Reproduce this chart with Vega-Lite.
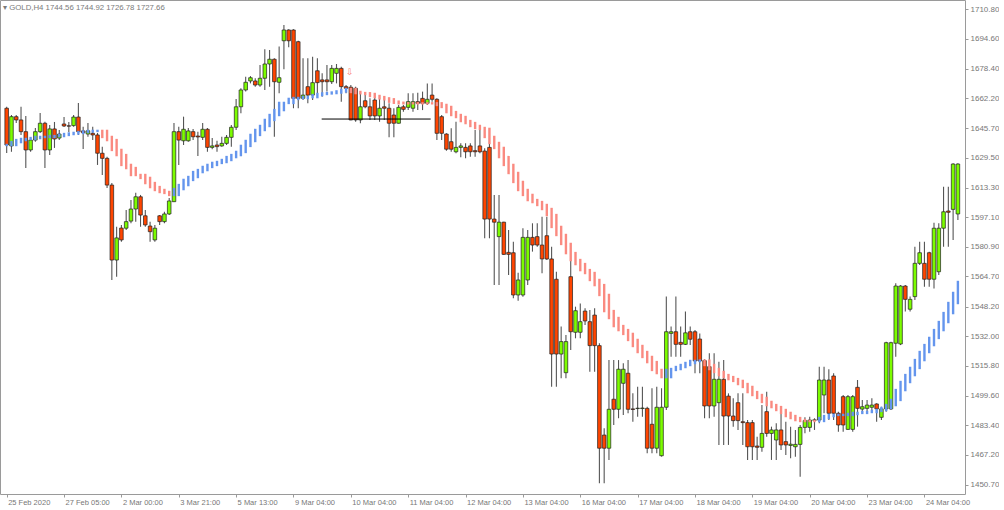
{
"$schema":"https://vega.github.io/schema/vega-lite/v6.json",
"width":965,"height":494,"padding":0,"background":"white",
"title":{"text":"▾ GOLD,H4  1744.56 1744.92 1726.78 1727.66","anchor":"start","frame":"group","orient":"top","baseline":"top","offset":-12,"dx":3,"font":"Liberation Sans","fontSize":7.8,"fontWeight":"normal","color":"#7a7a7a"},
"config":{"view":{"stroke":"#9a9a9a"},"axis":{"grid":false,"domain":false,"tickColor":"#9a9a9a","tickSize":3,"labelColor":"#777777","labelFont":"Liberation Sans","labelFlush":false,"labelOverlap":false,"labelSeparation":0,"title":null}},
"datasets":{
"bars":[
{"i":0,"o":1656.7,"h":1657.5,"l":1632.2,"c":1636.6,"s":1636.6,"d":"up"},
{"i":1,"o":1636.1,"h":1653.0,"l":1632.9,"c":1652.1,"s":1638.2,"d":"up"},
{"i":2,"o":1652.1,"h":1653.0,"l":1648.6,"c":1650.3,"s":1639.3,"d":"up"},
{"i":3,"o":1650.3,"h":1657.5,"l":1642.1,"c":1643.9,"s":1639.9,"d":"up"},
{"i":4,"o":1643.9,"h":1652.5,"l":1624.0,"c":1633.9,"s":1639.9,"d":"up"},
{"i":5,"o":1633.9,"h":1640.4,"l":1632.9,"c":1639.3,"s":1640.4,"d":"up"},
{"i":6,"o":1639.3,"h":1645.9,"l":1638.4,"c":1643.9,"s":1641.0,"d":"up"},
{"i":7,"o":1643.9,"h":1654.1,"l":1643.2,"c":1648.5,"s":1641.0,"d":"up"},
{"i":8,"o":1648.5,"h":1649.3,"l":1624.0,"c":1633.9,"s":1641.0,"d":"up"},
{"i":9,"o":1633.9,"h":1647.5,"l":1631.1,"c":1645.4,"s":1641.5,"d":"up"},
{"i":10,"o":1645.4,"h":1649.2,"l":1635.0,"c":1639.9,"s":1641.5,"d":"up"},
{"i":11,"o":1640.4,"h":1644.8,"l":1639.3,"c":1642.6,"s":1642.1,"d":"up"},
{"i":12,"o":1648.1,"h":1651.9,"l":1646.4,"c":1647.0,"s":1642.6,"d":"up"},
{"i":13,"o":1647.1,"h":1649.2,"l":1643.7,"c":1646.9,"s":1642.9,"d":"up"},
{"i":14,"o":1647.2,"h":1653.0,"l":1646.6,"c":1651.9,"s":1643.2,"d":"up"},
{"i":15,"o":1651.9,"h":1659.6,"l":1642.1,"c":1643.9,"s":1643.7,"d":"up"},
{"i":16,"o":1644.3,"h":1646.6,"l":1634.4,"c":1643.3,"s":1644.0,"d":"up"},
{"i":17,"o":1642.6,"h":1648.6,"l":1641.1,"c":1644.4,"s":1644.3,"d":"up"},
{"i":18,"o":1643.0,"h":1646.6,"l":1639.3,"c":1642.1,"s":1644.3,"d":"up"},
{"i":19,"o":1642.1,"h":1643.2,"l":1625.7,"c":1632.1,"s":1644.3,"d":"up"},
{"i":20,"o":1632.1,"h":1635.7,"l":1620.2,"c":1629.3,"s":1641.0,"d":"dn"},
{"i":21,"o":1629.3,"h":1630.2,"l":1613.1,"c":1614.7,"s":1639.3,"d":"dn"},
{"i":22,"o":1614.7,"h":1615.8,"l":1562.8,"c":1573.7,"s":1633.9,"d":"dn"},
{"i":23,"o":1573.7,"h":1591.9,"l":1564.6,"c":1585.8,"s":1631.1,"d":"dn"},
{"i":24,"o":1591.2,"h":1592.9,"l":1583.7,"c":1584.7,"s":1625.7,"d":"dn"},
{"i":25,"o":1591.1,"h":1601.1,"l":1590.1,"c":1594.7,"s":1624.0,"d":"dn"},
{"i":26,"o":1595.0,"h":1606.5,"l":1593.8,"c":1601.6,"s":1620.2,"d":"dn"},
{"i":27,"o":1601.6,"h":1610.5,"l":1594.7,"c":1608.3,"s":1620.2,"d":"dn"},
{"i":28,"o":1608.3,"h":1609.3,"l":1591.9,"c":1598.3,"s":1618.6,"d":"dn"},
{"i":29,"o":1597.9,"h":1601.1,"l":1591.9,"c":1592.9,"s":1615.8,"d":"dn"},
{"i":30,"o":1592.3,"h":1594.7,"l":1583.7,"c":1589.2,"s":1613.6,"d":"dn"},
{"i":31,"o":1584.7,"h":1592.9,"l":1583.7,"c":1591.1,"s":1612.0,"d":"dn"},
{"i":32,"o":1597.9,"h":1598.3,"l":1592.9,"c":1594.7,"s":1610.9,"d":"dn"},
{"i":33,"o":1594.7,"h":1600.1,"l":1593.8,"c":1598.9,"s":1610.4,"d":"dn"},
{"i":34,"o":1598.9,"h":1607.6,"l":1598.3,"c":1606.0,"s":1609.3,"d":"dn"},
{"i":35,"o":1605.6,"h":1648.6,"l":1605.4,"c":1643.9,"s":1612.5,"d":"up"},
{"i":36,"o":1643.9,"h":1646.6,"l":1625.7,"c":1639.3,"s":1614.7,"d":"up"},
{"i":37,"o":1638.9,"h":1652.1,"l":1636.6,"c":1645.2,"s":1617.5,"d":"up"},
{"i":38,"o":1638.9,"h":1645.9,"l":1638.4,"c":1644.3,"s":1619.1,"d":"up"},
{"i":39,"o":1643.9,"h":1645.4,"l":1639.3,"c":1641.1,"s":1621.8,"d":"up"},
{"i":40,"o":1641.5,"h":1643.9,"l":1630.6,"c":1641.0,"s":1622.9,"d":"up"},
{"i":41,"o":1640.8,"h":1648.6,"l":1639.3,"c":1645.2,"s":1624.6,"d":"up"},
{"i":42,"o":1645.2,"h":1645.9,"l":1632.9,"c":1635.3,"s":1625.7,"d":"up"},
{"i":43,"o":1635.3,"h":1640.4,"l":1634.3,"c":1636.1,"s":1626.8,"d":"up"},
{"i":44,"o":1636.6,"h":1638.9,"l":1632.9,"c":1635.7,"s":1627.3,"d":"up"},
{"i":45,"o":1636.1,"h":1641.1,"l":1635.7,"c":1637.5,"s":1628.4,"d":"up"},
{"i":46,"o":1637.5,"h":1642.1,"l":1636.6,"c":1640.8,"s":1630.0,"d":"up"},
{"i":47,"o":1640.8,"h":1647.5,"l":1635.7,"c":1646.3,"s":1631.1,"d":"up"},
{"i":48,"o":1646.3,"h":1661.8,"l":1644.8,"c":1657.5,"s":1632.8,"d":"up"},
{"i":49,"o":1657.5,"h":1667.6,"l":1653.9,"c":1666.7,"s":1636.1,"d":"up"},
{"i":50,"o":1666.7,"h":1673.9,"l":1665.8,"c":1670.9,"s":1638.8,"d":"up"},
{"i":51,"o":1671.6,"h":1674.3,"l":1670.3,"c":1673.4,"s":1642.1,"d":"up"},
{"i":52,"o":1671.6,"h":1673.1,"l":1668.5,"c":1669.4,"s":1644.8,"d":"up"},
{"i":53,"o":1669.4,"h":1680.3,"l":1668.5,"c":1673.1,"s":1647.0,"d":"up"},
{"i":54,"o":1673.1,"h":1688.9,"l":1666.7,"c":1680.9,"s":1650.3,"d":"up"},
{"i":55,"o":1680.9,"h":1688.5,"l":1668.5,"c":1683.5,"s":1653.0,"d":"up"},
{"i":56,"o":1683.5,"h":1684.0,"l":1641.1,"c":1671.2,"s":1655.7,"d":"up"},
{"i":57,"o":1670.9,"h":1690.4,"l":1664.9,"c":1673.4,"s":1659.6,"d":"up"},
{"i":58,"o":1693.6,"h":1702.2,"l":1678.0,"c":1699.5,"s":1659.6,"d":"up"},
{"i":59,"o":1699.5,"h":1699.9,"l":1690.0,"c":1693.6,"s":1661.8,"d":"up"},
{"i":60,"o":1699.5,"h":1699.9,"l":1656.7,"c":1662.1,"s":1662.3,"d":"up"},
{"i":61,"o":1693.1,"h":1693.6,"l":1656.7,"c":1662.1,"s":1662.3,"d":"up"},
{"i":62,"o":1662.1,"h":1684.0,"l":1661.2,"c":1663.9,"s":1662.8,"d":"up"},
{"i":63,"o":1668.5,"h":1684.0,"l":1659.4,"c":1663.9,"s":1662.8,"d":"up"},
{"i":64,"o":1663.9,"h":1684.9,"l":1661.2,"c":1670.7,"s":1663.9,"d":"up"},
{"i":65,"o":1677.2,"h":1684.0,"l":1664.9,"c":1670.7,"s":1664.5,"d":"up"},
{"i":66,"o":1672.2,"h":1675.8,"l":1663.0,"c":1671.2,"s":1664.8,"d":"up"},
{"i":67,"o":1672.2,"h":1680.3,"l":1665.8,"c":1671.2,"s":1665.0,"d":"up"},
{"i":68,"o":1671.2,"h":1680.3,"l":1669.9,"c":1678.5,"s":1665.3,"d":"up"},
{"i":69,"o":1675.8,"h":1680.9,"l":1670.3,"c":1678.5,"s":1665.9,"d":"up"},
{"i":70,"o":1678.5,"h":1679.4,"l":1660.3,"c":1668.5,"s":1666.7,"d":"up"},
{"i":71,"o":1668.5,"h":1669.4,"l":1664.9,"c":1667.6,"s":1667.2,"d":"up"},
{"i":72,"o":1668.2,"h":1669.4,"l":1650.1,"c":1650.3,"s":1665.6,"d":"dn"},
{"i":73,"o":1667.6,"h":1668.5,"l":1649.3,"c":1650.3,"s":1665.0,"d":"dn"},
{"i":74,"o":1650.3,"h":1664.9,"l":1648.5,"c":1657.5,"s":1664.9,"d":"dn"},
{"i":75,"o":1660.8,"h":1664.9,"l":1656.7,"c":1657.5,"s":1664.5,"d":"dn"},
{"i":76,"o":1657.5,"h":1662.1,"l":1650.3,"c":1652.5,"s":1663.4,"d":"dn"},
{"i":77,"o":1661.2,"h":1664.9,"l":1650.3,"c":1652.5,"s":1662.8,"d":"dn"},
{"i":78,"o":1652.5,"h":1662.1,"l":1649.3,"c":1656.7,"s":1662.1,"d":"dn"},
{"i":79,"o":1657.5,"h":1661.2,"l":1650.3,"c":1656.7,"s":1661.6,"d":"dn"},
{"i":80,"o":1656.7,"h":1659.4,"l":1640.8,"c":1648.5,"s":1660.3,"d":"dn"},
{"i":81,"o":1653.0,"h":1656.7,"l":1640.8,"c":1648.5,"s":1659.7,"d":"dn"},
{"i":82,"o":1648.5,"h":1658.5,"l":1648.3,"c":1657.2,"s":1659.4,"d":"dn"},
{"i":83,"o":1657.5,"h":1658.5,"l":1654.8,"c":1656.1,"s":1659.4,"d":"dn"},
{"i":84,"o":1657.2,"h":1664.9,"l":1655.7,"c":1660.3,"s":1659.4,"d":"dn"},
{"i":85,"o":1656.7,"h":1664.9,"l":1654.8,"c":1660.3,"s":1659.4,"d":"dn"},
{"i":86,"o":1660.3,"h":1665.2,"l":1655.7,"c":1659.4,"s":1659.4,"d":"dn"},
{"i":87,"o":1662.1,"h":1665.8,"l":1655.7,"c":1659.4,"s":1659.4,"d":"dn"},
{"i":88,"o":1659.4,"h":1670.3,"l":1658.5,"c":1661.6,"s":1659.4,"d":"dn"},
{"i":89,"o":1663.9,"h":1670.3,"l":1660.3,"c":1661.6,"s":1659.4,"d":"dn"},
{"i":90,"o":1661.6,"h":1662.1,"l":1639.3,"c":1643.0,"s":1658.5,"d":"dn"},
{"i":91,"o":1652.1,"h":1653.0,"l":1639.3,"c":1643.0,"s":1657.4,"d":"dn"},
{"i":92,"o":1642.6,"h":1643.0,"l":1633.5,"c":1634.3,"s":1654.6,"d":"dn"},
{"i":93,"o":1638.4,"h":1645.7,"l":1632.9,"c":1634.3,"s":1653.0,"d":"dn"},
{"i":94,"o":1632.9,"h":1649.3,"l":1632.1,"c":1635.3,"s":1651.9,"d":"dn"},
{"i":95,"o":1635.3,"h":1637.5,"l":1629.9,"c":1636.1,"s":1649.7,"d":"dn"},
{"i":96,"o":1635.3,"h":1637.5,"l":1629.3,"c":1632.9,"s":1648.6,"d":"dn"},
{"i":97,"o":1636.1,"h":1637.5,"l":1630.2,"c":1632.9,"s":1647.0,"d":"dn"},
{"i":98,"o":1633.5,"h":1644.8,"l":1630.2,"c":1632.9,"s":1645.9,"d":"dn"},
{"i":99,"o":1636.1,"h":1645.7,"l":1632.1,"c":1632.9,"s":1645.4,"d":"dn"},
{"i":100,"o":1633.3,"h":1634.8,"l":1585.6,"c":1596.1,"s":1641.0,"d":"dn"},
{"i":101,"o":1635.3,"h":1645.7,"l":1585.6,"c":1596.1,"s":1637.7,"d":"dn"},
{"i":102,"o":1596.1,"h":1609.3,"l":1560.0,"c":1594.4,"s":1635.0,"d":"dn"},
{"i":103,"o":1586.5,"h":1609.3,"l":1560.0,"c":1594.4,"s":1630.0,"d":"dn"},
{"i":104,"o":1594.4,"h":1594.7,"l":1576.5,"c":1576.8,"s":1625.7,"d":"dn"},
{"i":105,"o":1577.9,"h":1590.1,"l":1565.5,"c":1576.8,"s":1621.3,"d":"dn"},
{"i":106,"o":1577.7,"h":1583.7,"l":1552.8,"c":1554.6,"s":1616.4,"d":"dn"},
{"i":107,"o":1554.6,"h":1566.8,"l":1551.5,"c":1562.8,"s":1612.0,"d":"dn"},
{"i":108,"o":1554.6,"h":1591.1,"l":1553.6,"c":1586.1,"s":1609.3,"d":"dn"},
{"i":109,"o":1562.8,"h":1590.1,"l":1560.0,"c":1586.1,"s":1606.5,"d":"dn"},
{"i":110,"o":1586.1,"h":1593.8,"l":1578.3,"c":1581.9,"s":1605.4,"d":"dn"},
{"i":111,"o":1586.5,"h":1593.8,"l":1581.0,"c":1581.9,"s":1603.8,"d":"dn"},
{"i":112,"o":1581.9,"h":1597.4,"l":1566.5,"c":1574.3,"s":1601.6,"d":"dn"},
{"i":113,"o":1587.0,"h":1597.4,"l":1573.7,"c":1574.3,"s":1598.3,"d":"dn"},
{"i":114,"o":1574.3,"h":1581.0,"l":1504.4,"c":1522.3,"s":1591.8,"d":"dn"},
{"i":115,"o":1563.2,"h":1567.3,"l":1504.4,"c":1522.3,"s":1587.4,"d":"dn"},
{"i":116,"o":1522.3,"h":1537.3,"l":1509.0,"c":1529.1,"s":1582.5,"d":"dn"},
{"i":117,"o":1512.1,"h":1532.7,"l":1509.0,"c":1529.1,"s":1577.5,"d":"dn"},
{"i":118,"o":1564.6,"h":1573.7,"l":1524.5,"c":1534.5,"s":1573.7,"d":"dn"},
{"i":119,"o":1534.2,"h":1548.2,"l":1530.9,"c":1546.0,"s":1571.5,"d":"dn"},
{"i":120,"o":1534.2,"h":1550.0,"l":1530.9,"c":1540.0,"s":1568.2,"d":"dn"},
{"i":121,"o":1545.8,"h":1547.3,"l":1538.2,"c":1540.4,"s":1566.6,"d":"dn"},
{"i":122,"o":1540.0,"h":1546.4,"l":1512.6,"c":1526.9,"s":1562.8,"d":"dn"},
{"i":123,"o":1543.6,"h":1547.3,"l":1512.6,"c":1526.9,"s":1560.0,"d":"dn"},
{"i":124,"o":1526.9,"h":1528.2,"l":1451.6,"c":1470.8,"s":1554.6,"d":"dn"},
{"i":125,"o":1478.0,"h":1481.7,"l":1451.6,"c":1470.8,"s":1545.8,"d":"dn"},
{"i":126,"o":1470.8,"h":1519.0,"l":1464.4,"c":1492.1,"s":1542.0,"d":"dn"},
{"i":127,"o":1497.6,"h":1519.0,"l":1483.5,"c":1492.1,"s":1537.6,"d":"dn"},
{"i":128,"o":1492.1,"h":1519.0,"l":1487.2,"c":1514.0,"s":1535.4,"d":"dn"},
{"i":129,"o":1506.3,"h":1517.2,"l":1488.9,"c":1514.0,"s":1533.3,"d":"dn"},
{"i":130,"o":1511.8,"h":1519.0,"l":1489.9,"c":1492.1,"s":1530.0,"d":"dn"},
{"i":131,"o":1492.3,"h":1500.8,"l":1485.3,"c":1492.0,"s":1526.7,"d":"dn"},
{"i":132,"o":1492.5,"h":1504.4,"l":1488.0,"c":1492.7,"s":1523.4,"d":"dn"},
{"i":133,"o":1492.5,"h":1504.4,"l":1488.0,"c":1492.8,"s":1520.7,"d":"dn"},
{"i":134,"o":1492.6,"h":1493.5,"l":1468.0,"c":1470.8,"s":1517.9,"d":"dn"},
{"i":135,"o":1483.9,"h":1503.6,"l":1468.0,"c":1470.8,"s":1513.6,"d":"dn"},
{"i":136,"o":1470.8,"h":1504.4,"l":1468.0,"c":1493.2,"s":1511.9,"d":"dn"},
{"i":137,"o":1466.7,"h":1503.6,"l":1466.2,"c":1493.2,"s":1509.7,"d":"dn"},
{"i":138,"o":1493.2,"h":1553.7,"l":1491.7,"c":1534.5,"s":1513.6,"d":"up"},
{"i":139,"o":1533.6,"h":1537.3,"l":1520.8,"c":1534.5,"s":1514.1,"d":"up"},
{"i":140,"o":1534.5,"h":1553.7,"l":1520.8,"c":1527.6,"s":1515.2,"d":"up"},
{"i":141,"o":1528.7,"h":1537.3,"l":1520.8,"c":1527.6,"s":1516.3,"d":"up"},
{"i":142,"o":1527.6,"h":1545.5,"l":1527.2,"c":1533.9,"s":1517.4,"d":"up"},
{"i":143,"o":1534.5,"h":1537.3,"l":1527.2,"c":1530.4,"s":1518.5,"d":"up"},
{"i":144,"o":1534.5,"h":1535.4,"l":1511.8,"c":1518.5,"s":1518.5,"d":"up"},
{"i":145,"o":1530.5,"h":1533.6,"l":1511.8,"c":1518.5,"s":1518.7,"d":"up"},
{"i":146,"o":1518.7,"h":1519.4,"l":1487.2,"c":1493.9,"s":1516.3,"d":"dn"},
{"i":147,"o":1515.4,"h":1522.7,"l":1487.2,"c":1493.9,"s":1514.1,"d":"dn"},
{"i":148,"o":1493.9,"h":1522.7,"l":1488.0,"c":1508.5,"s":1512.5,"d":"dn"},
{"i":149,"o":1495.7,"h":1518.1,"l":1472.6,"c":1508.5,"s":1510.8,"d":"dn"},
{"i":150,"o":1508.5,"h":1519.0,"l":1472.6,"c":1488.4,"s":1509.7,"d":"dn"},
{"i":151,"o":1499.3,"h":1500.8,"l":1472.6,"c":1488.4,"s":1508.6,"d":"dn"},
{"i":152,"o":1488.4,"h":1498.1,"l":1482.6,"c":1485.9,"s":1507.6,"d":"dn"},
{"i":153,"o":1495.7,"h":1500.8,"l":1480.8,"c":1485.9,"s":1505.9,"d":"dn"},
{"i":154,"o":1485.3,"h":1500.8,"l":1472.6,"c":1484.8,"s":1504.3,"d":"dn"},
{"i":155,"o":1484.8,"h":1486.2,"l":1464.4,"c":1471.6,"s":1501.5,"d":"dn"},
{"i":156,"o":1484.8,"h":1486.2,"l":1464.4,"c":1471.6,"s":1499.9,"d":"dn"},
{"i":157,"o":1472.0,"h":1477.1,"l":1464.4,"c":1471.3,"s":1498.3,"d":"dn"},
{"i":158,"o":1471.3,"h":1494.4,"l":1468.9,"c":1478.9,"s":1496.1,"d":"dn"},
{"i":159,"o":1490.8,"h":1501.7,"l":1477.1,"c":1478.9,"s":1494.4,"d":"dn"},
{"i":160,"o":1478.9,"h":1482.6,"l":1464.4,"c":1480.8,"s":1493.3,"d":"dn"},
{"i":161,"o":1475.3,"h":1484.4,"l":1464.4,"c":1480.8,"s":1491.7,"d":"dn"},
{"i":162,"o":1480.8,"h":1492.6,"l":1469.8,"c":1472.6,"s":1490.1,"d":"dn"},
{"i":163,"o":1474.4,"h":1485.3,"l":1467.1,"c":1472.6,"s":1488.4,"d":"dn"},
{"i":164,"o":1472.3,"h":1482.6,"l":1465.3,"c":1473.0,"s":1487.3,"d":"dn"},
{"i":165,"o":1471.6,"h":1480.8,"l":1466.2,"c":1472.9,"s":1486.2,"d":"dn"},
{"i":166,"o":1472.9,"h":1483.5,"l":1455.2,"c":1482.2,"s":1485.7,"d":"dn"},
{"i":167,"o":1482.2,"h":1487.7,"l":1479.0,"c":1485.9,"s":1485.7,"d":"dn"},
{"i":168,"o":1482.2,"h":1488.0,"l":1479.8,"c":1486.2,"s":1485.7,"d":"dn"},
{"i":169,"o":1486.1,"h":1487.2,"l":1480.8,"c":1486.3,"s":1485.7,"d":"dn"},
{"i":170,"o":1486.2,"h":1515.4,"l":1484.4,"c":1508.1,"s":1487.3,"d":"up"},
{"i":171,"o":1499.9,"h":1515.4,"l":1489.9,"c":1508.1,"s":1488.4,"d":"up"},
{"i":172,"o":1508.1,"h":1514.0,"l":1486.2,"c":1489.9,"s":1489.0,"d":"up"},
{"i":173,"o":1510.3,"h":1511.8,"l":1486.2,"c":1489.9,"s":1489.0,"d":"up"},
{"i":174,"o":1489.9,"h":1490.8,"l":1479.8,"c":1483.5,"s":1489.0,"d":"up"},
{"i":175,"o":1499.0,"h":1499.9,"l":1479.8,"c":1483.5,"s":1489.0,"d":"up"},
{"i":176,"o":1481.1,"h":1499.9,"l":1480.8,"c":1499.0,"s":1489.5,"d":"up"},
{"i":177,"o":1481.1,"h":1499.9,"l":1479.8,"c":1499.0,"s":1490.1,"d":"up"},
{"i":178,"o":1504.1,"h":1508.1,"l":1482.6,"c":1492.6,"s":1490.1,"d":"up"},
{"i":179,"o":1492.2,"h":1497.2,"l":1490.8,"c":1493.5,"s":1490.6,"d":"up"},
{"i":180,"o":1492.6,"h":1497.2,"l":1490.8,"c":1494.4,"s":1490.6,"d":"up"},
{"i":181,"o":1493.2,"h":1498.1,"l":1490.8,"c":1494.4,"s":1491.2,"d":"up"},
{"i":182,"o":1495.0,"h":1495.4,"l":1485.3,"c":1492.3,"s":1491.7,"d":"up"},
{"i":183,"o":1487.7,"h":1493.5,"l":1486.2,"c":1492.3,"s":1492.8,"d":"up"},
{"i":184,"o":1492.3,"h":1529.0,"l":1490.8,"c":1528.5,"s":1494.4,"d":"up"},
{"i":185,"o":1492.3,"h":1529.0,"l":1491.7,"c":1528.5,"s":1497.2,"d":"up"},
{"i":186,"o":1528.2,"h":1561.0,"l":1520.8,"c":1559.5,"s":1502.6,"d":"up"},
{"i":187,"o":1527.8,"h":1560.0,"l":1527.2,"c":1559.5,"s":1507.0,"d":"up"},
{"i":188,"o":1559.5,"h":1560.0,"l":1545.5,"c":1552.2,"s":1510.8,"d":"up"},
{"i":189,"o":1546.8,"h":1553.7,"l":1545.5,"c":1552.2,"s":1514.7,"d":"up"},
{"i":190,"o":1553.7,"h":1581.0,"l":1551.9,"c":1571.9,"s":1519.0,"d":"up"},
{"i":191,"o":1571.9,"h":1583.7,"l":1571.0,"c":1577.7,"s":1523.4,"d":"up"},
{"i":192,"o":1571.9,"h":1583.7,"l":1559.1,"c":1563.2,"s":1527.2,"d":"up"},
{"i":193,"o":1577.7,"h":1578.3,"l":1559.1,"c":1563.2,"s":1531.1,"d":"up"},
{"i":194,"o":1563.2,"h":1594.1,"l":1558.2,"c":1591.1,"s":1535.4,"d":"up"},
{"i":195,"o":1567.3,"h":1593.8,"l":1565.5,"c":1591.1,"s":1539.8,"d":"up"},
{"i":196,"o":1591.1,"h":1613.8,"l":1581.0,"c":1600.1,"s":1544.7,"d":"up"},
{"i":197,"o":1600.5,"h":1613.8,"l":1581.0,"c":1599.8,"s":1550.2,"d":"up"},
{"i":198,"o":1601.4,"h":1626.6,"l":1584.7,"c":1626.2,"s":1555.7,"d":"up"},
{"i":199,"o":1598.9,"h":1626.6,"l":1595.6,"c":1626.2,"s":1561.7,"d":"up"}
],
"sup":[{"a":65.9,"b":88.7,"p":1650.8}],
"arr":[{"i":71.8,"p":1676.5}]
},
"encoding":{
"x":{"field":"i","type":"quantitative","scale":{"domain":[-0.352,199.44],"nice":false,"zero":false},
"axis":{"values":[0,12,24,36,48,60,72,84,96,108,120,132,144,156,168,180,192],
"labelExpr":"['25 Feb 2020','27 Feb 05:00','2 Mar 00:00','3 Mar 21:00','5 Mar 13:00','9 Mar 04:00','10 Mar 04:00','11 Mar 04:00','12 Mar 04:00','13 Mar 04:00','16 Mar 04:00','17 Mar 04:00','18 Mar 04:00','19 Mar 04:00','20 Mar 04:00','23 Mar 04:00','24 Mar 04:00'][round(datum.value/12)]",
"labelAlign":"left","labelOffset":1,"labelFontSize":7.5,"labelPadding":1,"tickSize":3,"labelOverlap":false,"title":null}},
"y":{"field":"l","type":"quantitative","scale":{"domain":[1445.77,1715.89],"nice":false,"zero":false},
"axis":{"orient":"right","values":[1710.8,1694.6,1678.4,1662.2,1645.7,1629.5,1613.3,1597.1,1580.9,1564.7,1548.2,1532,1515.8,1499.6,1483.4,1467.2,1450.7],"format":".2f","labelFontSize":8,"labelPadding":2,"tickSize":3,"labelOverlap":false,"labelSeparation":0,"labelBound":false,"title":null}}
},
"layer":[
{"data":{"name":"bars"},"mark":{"type":"rule","color":"#555555","strokeWidth":1.1,"clip":true},
"encoding":{"y2":{"field":"h"}}},
{"data":{"name":"bars"},"mark":{"type":"bar","size":3.6,"stroke":"#1f1f1f","strokeWidth":0.7,"clip":true},
"encoding":{"y":{"field":"o","type":"quantitative","scale":{"domain":[1445.77,1715.89],"nice":false,"zero":false},
"axis":{"orient":"right","values":[1710.8,1694.6,1678.4,1662.2,1645.7,1629.5,1613.3,1597.1,1580.9,1564.7,1548.2,1532,1515.8,1499.6,1483.4,1467.2,1450.7],"format":".2f","labelFontSize":8,"labelPadding":2,"tickSize":3,"labelOverlap":false,"labelSeparation":0,"labelBound":false,"title":null}},
"y2":{"field":"c"},
"fill":{"condition":{"test":"datum.c >= datum.o","value":"#7cfc00"},"value":"#ff4500"}}},
{"data":{"name":"bars"},
"transform":[{"window":[{"op":"min","field":"s","as":"slo"},{"op":"max","field":"s","as":"shi"}],"frame":[-2,0],"sort":[{"field":"i"}]}],
"mark":{"type":"rule","strokeWidth":2.4,"strokeCap":"square","clip":true},
"encoding":{"y":{"field":"slo","type":"quantitative","scale":{"domain":[1445.77,1715.89],"nice":false,"zero":false},
"axis":{"orient":"right","values":[1710.8,1694.6,1678.4,1662.2,1645.7,1629.5,1613.3,1597.1,1580.9,1564.7,1548.2,1532,1515.8,1499.6,1483.4,1467.2,1450.7],"format":".2f","labelFontSize":8,"labelPadding":2,"tickSize":3,"labelOverlap":false,"labelSeparation":0,"labelBound":false,"title":null}},
"y2":{"field":"shi"},
"color":{"field":"d","type":"nominal","scale":{"domain":["up","dn"],"range":["#6495ed","#fa8a80"]},"legend":null}}},
{"data":{"name":"sup"},"mark":{"type":"rule","color":"#000000","strokeWidth":1},
"encoding":{"x":{"field":"a","type":"quantitative","scale":{"domain":[-0.352,199.44],"nice":false,"zero":false}},"x2":{"field":"b"},
"y":{"field":"p","type":"quantitative","scale":{"domain":[1445.77,1715.89],"nice":false,"zero":false},
"axis":{"orient":"right","values":[1710.8,1694.6,1678.4,1662.2,1645.7,1629.5,1613.3,1597.1,1580.9,1564.7,1548.2,1532,1515.8,1499.6,1483.4,1467.2,1450.7],"format":".2f","labelFontSize":8,"labelPadding":2,"tickSize":3,"labelOverlap":false,"labelSeparation":0,"labelBound":false,"title":null}}}},
{"data":{"name":"arr"},"mark":{"type":"text","text":"⇩","font":"DejaVu Sans","fontSize":9,"color":"#fa8072"},
"encoding":{"y":{"field":"p","type":"quantitative","scale":{"domain":[1445.77,1715.89],"nice":false,"zero":false},
"axis":{"orient":"right","values":[1710.8,1694.6,1678.4,1662.2,1645.7,1629.5,1613.3,1597.1,1580.9,1564.7,1548.2,1532,1515.8,1499.6,1483.4,1467.2,1450.7],"format":".2f","labelFontSize":8,"labelPadding":2,"tickSize":3,"labelOverlap":false,"labelSeparation":0,"labelBound":false,"title":null}}}}
]
}
